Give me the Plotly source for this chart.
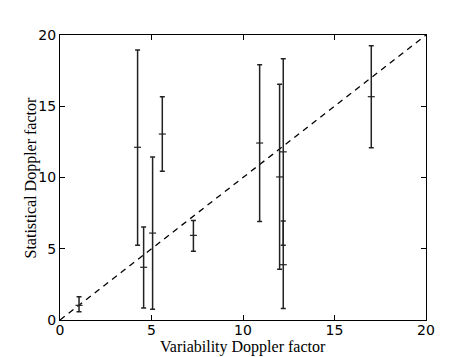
import plotly.graph_objects as go

x_var = [1.04, 4.24, 4.57, 5.06, 5.59, 7.29, 10.91, 12.0, 12.2, 12.2, 17.01]
y_stat = [1.03, 12.12, 3.70, 6.10, 13.05, 5.94, 12.42, 10.04, 11.80, 3.88, 15.67]
y_high = [1.64, 18.95, 6.53, 11.44, 15.67, 6.99, 17.92, 16.54, 18.34, 6.95, 19.25]
y_low = [0.58, 5.24, 0.84, 0.75, 10.43, 4.82, 6.92, 3.56, 5.24, 0.80, 12.09]
line_xy = [0, 20]
tick_vals = [0, 5, 10, 15, 20]
x_title = "Variability Doppler factor"
y_title = "Statistical Doppler factor"

err_plus = [h - c for h, c in zip(y_high, y_stat)]
err_minus = [c - l for c, l in zip(y_stat, y_low)]

fig = go.Figure()
fig.add_trace(go.Scatter(
    x=line_xy, y=line_xy, mode="lines",
    line=dict(color="black", width=1.3, dash="6px,5px"),
    hoverinfo="skip", showlegend=False))
fig.add_trace(go.Scatter(
    x=x_var, y=y_stat, mode="markers",
    marker=dict(symbol="line-ew", size=5, line=dict(color="#222", width=1.2)),
    error_y=dict(type="data", symmetric=False, array=err_plus, arrayminus=err_minus,
                 color="#222", thickness=1.5, width=2.5),
    showlegend=False))

axis_common = dict(
    range=[0, 20], tickvals=tick_vals, ticks="inside", ticklen=5, tickcolor="black",
    showline=True, linecolor="black", linewidth=1.2, mirror="ticks",
    showgrid=False, zeroline=False, automargin=False,
    tickfont=dict(family="DejaVu Sans", size=14, color="black"),
)
fig.update_xaxes(**axis_common, ticklabelstandoff=-3)
fig.update_yaxes(**axis_common)

title_font = dict(family="Liberation Serif", size=16, color="black")
fig.add_annotation(text=x_title, xref="paper", yref="paper", x=0.5, y=0,
                   xanchor="center", yanchor="middle", yshift=-27,
                   showarrow=False, font=title_font)
fig.add_annotation(text=y_title, xref="paper", yref="paper", x=0, y=0.5,
                   xanchor="center", yanchor="middle", xshift=-30, textangle=-90,
                   showarrow=False, font=title_font)
fig.update_layout(
    width=474, height=357,
    margin=dict(l=52, r=56, t=27, b=45),
    plot_bgcolor="white", paper_bgcolor="white",
)
fig.write_html("out.html")
